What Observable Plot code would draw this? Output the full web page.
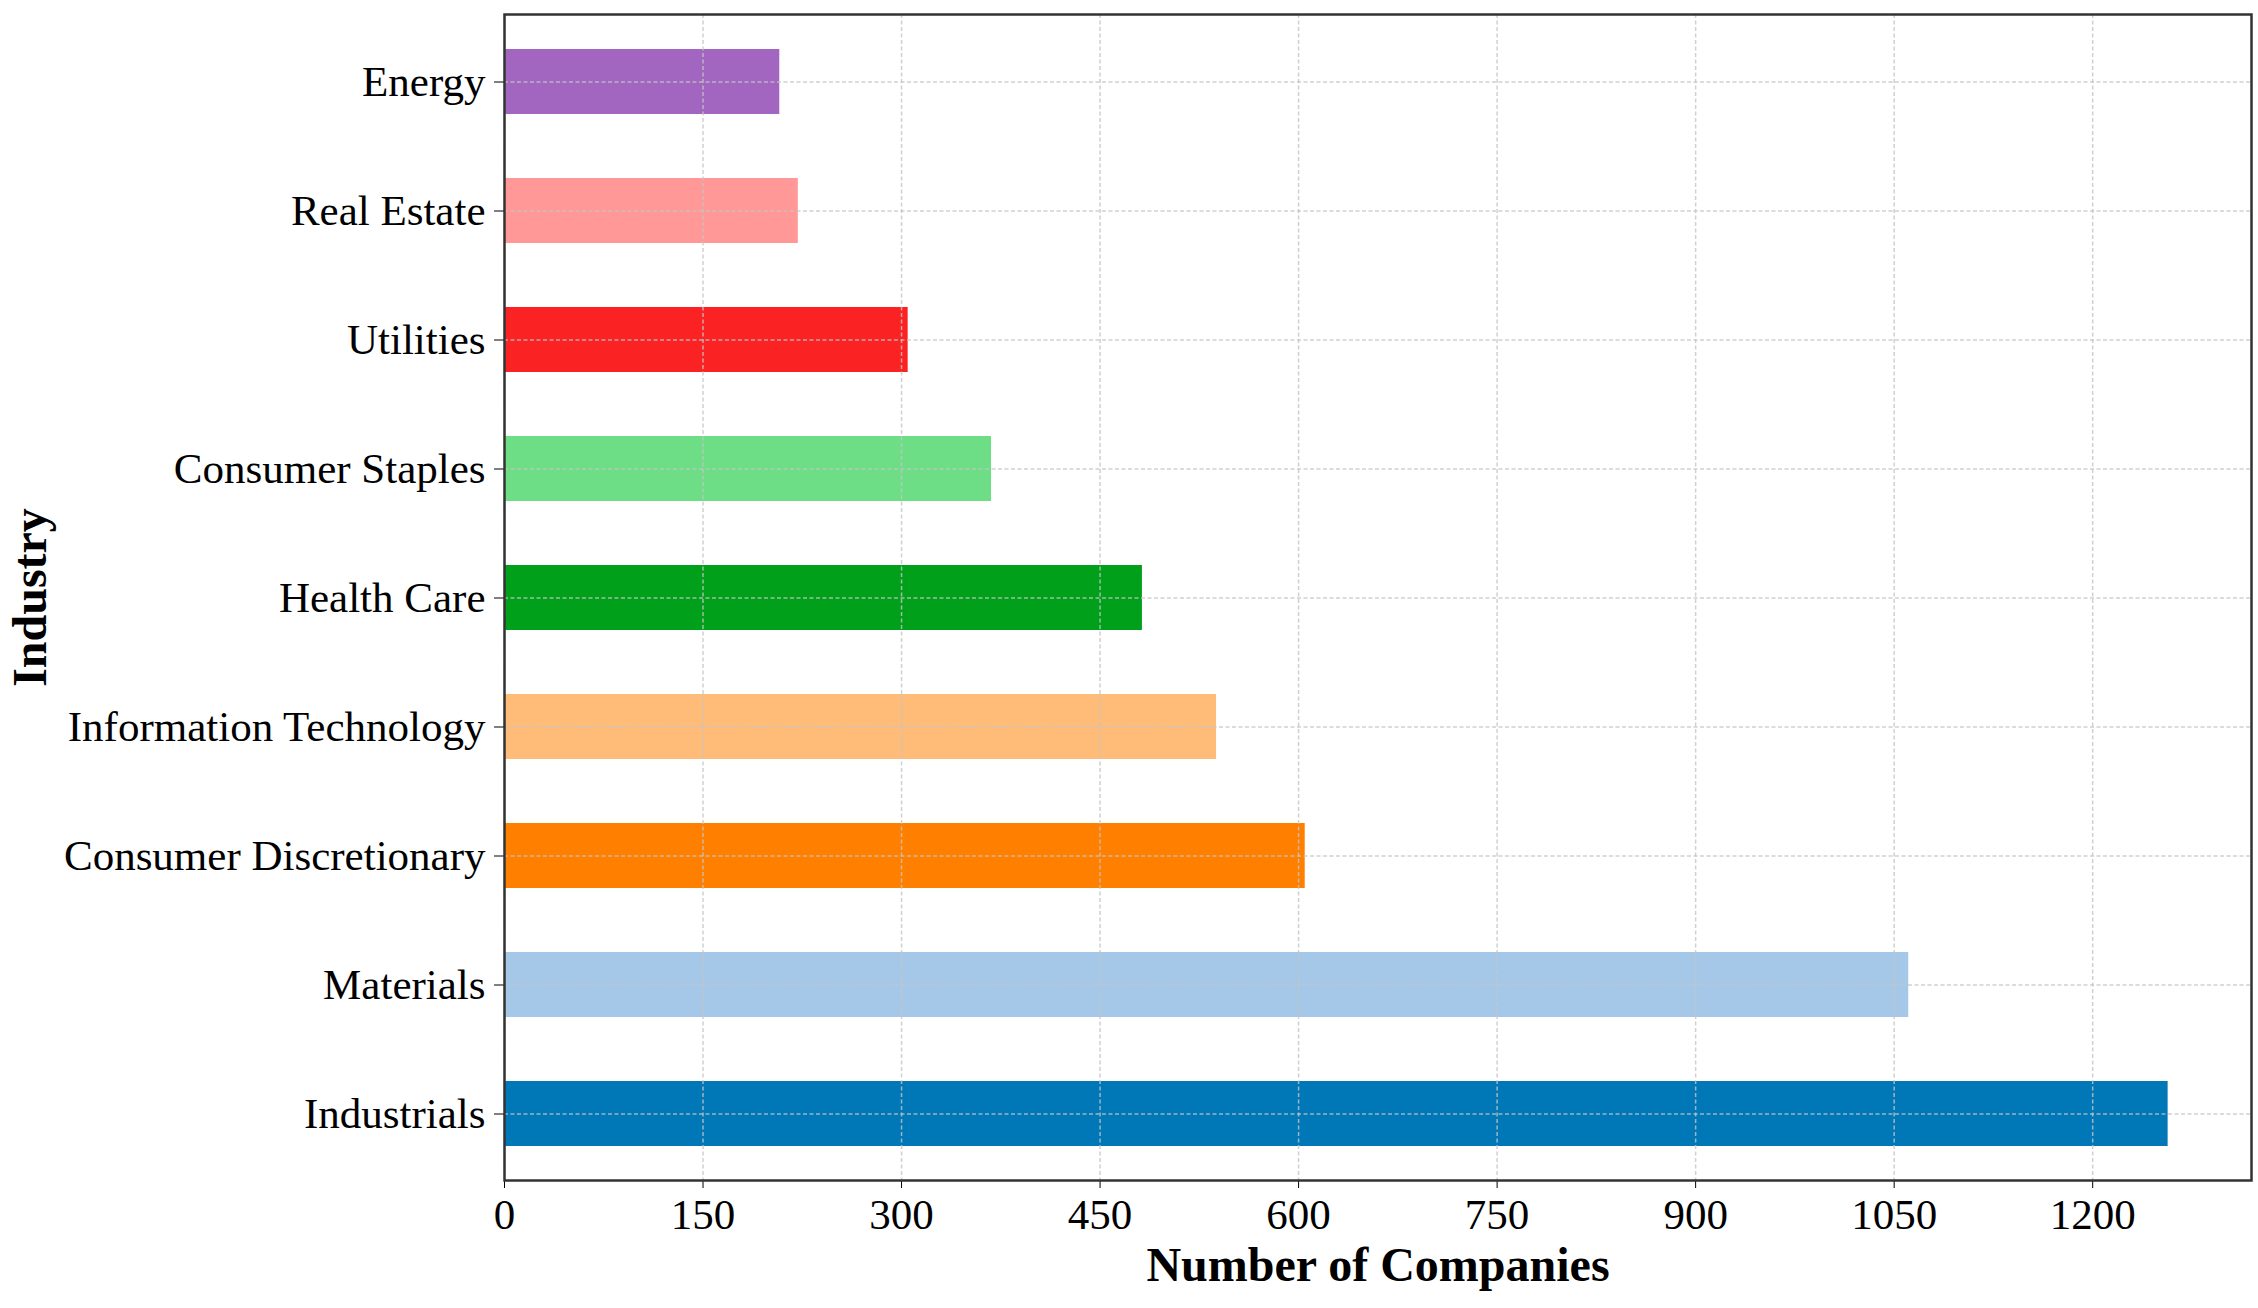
<!DOCTYPE html>
<html>
<head>
<meta charset="utf-8">
<script src="https://cdn.jsdelivr.net/npm/d3@7"></script>
<script src="https://cdn.jsdelivr.net/npm/@observablehq/plot@0.6"></script>
<style>
  html, body { margin: 0; padding: 0; background: white; }
  #chart { width: 2258px; height: 1308px; }
</style>
</head>
<body>
<div id="chart"></div>
<script>
const industries = ["Energy", "Real Estate", "Utilities", "Consumer Staples", "Health Care",
  "Information Technology", "Consumer Discretionary", "Materials", "Industrials"];
const counts = [208, 222, 305, 368, 482, 538, 605, 1061, 1257];
const barColors = ["#a266c0", "#ff9896", "#fa2222", "#6ede86", "#00a01a",
  "#ffbb78", "#ff7f00", "#a6c8e8", "#0077b7"];
const xTicks = [0, 150, 300, 450, 600, 750, 900, 1050, 1200];
const xLabel = "Number of Companies";
const yLabel = "Industry";

const data = industries.map((industry, i) => ({industry, count: counts[i]}));
const font = "'Liberation Serif', 'Times New Roman', Times, serif";
const gridStyle = {stroke: "#c4c4c4", strokeOpacity: 0.8, strokeDasharray: "4,2.5", strokeWidth: 1.5};

const chart = Plot.plot({
  width: 2258,
  height: 1308,
  marginLeft: 504,
  marginRight: 7,
  marginTop: 14,
  marginBottom: 128,
  style: {fontFamily: font, fontSize: "43px", color: "black", background: "white"},
  x: {domain: [0, 1320], ticks: xTicks, label: null},
  y: {domain: industries, paddingInner: 0.5, paddingOuter: 0.25, label: null},
  color: {domain: industries, range: barColors},
  marks: [
    Plot.barX(data, {x: "count", y: "industry", fill: "industry"}),
    Plot.gridX(xTicks, {...gridStyle}),
    Plot.gridY(industries, {...gridStyle}),
    Plot.axisX({ticks: xTicks, tickSize: 8, tickPadding: 10, fontSize: 43, label: null, tickFormat: d => String(d)}),
    Plot.axisY({tickSize: 10, tickPadding: 9, fontSize: 43, label: null}),
    Plot.frame({stroke: "#333", strokeWidth: 2.5}),
    Plot.text([xLabel], {text: d => d, frameAnchor: "bottom", dy: 85, textAnchor: "middle", lineAnchor: "middle", fontWeight: "bold", fontSize: 48}),
    Plot.text([yLabel], {text: d => d, frameAnchor: "left", dx: -474, rotate: -90, textAnchor: "middle", lineAnchor: "middle", fontWeight: "bold", fontSize: 48})
  ]
});
document.getElementById("chart").appendChild(chart);
</script>
</body>
</html>
